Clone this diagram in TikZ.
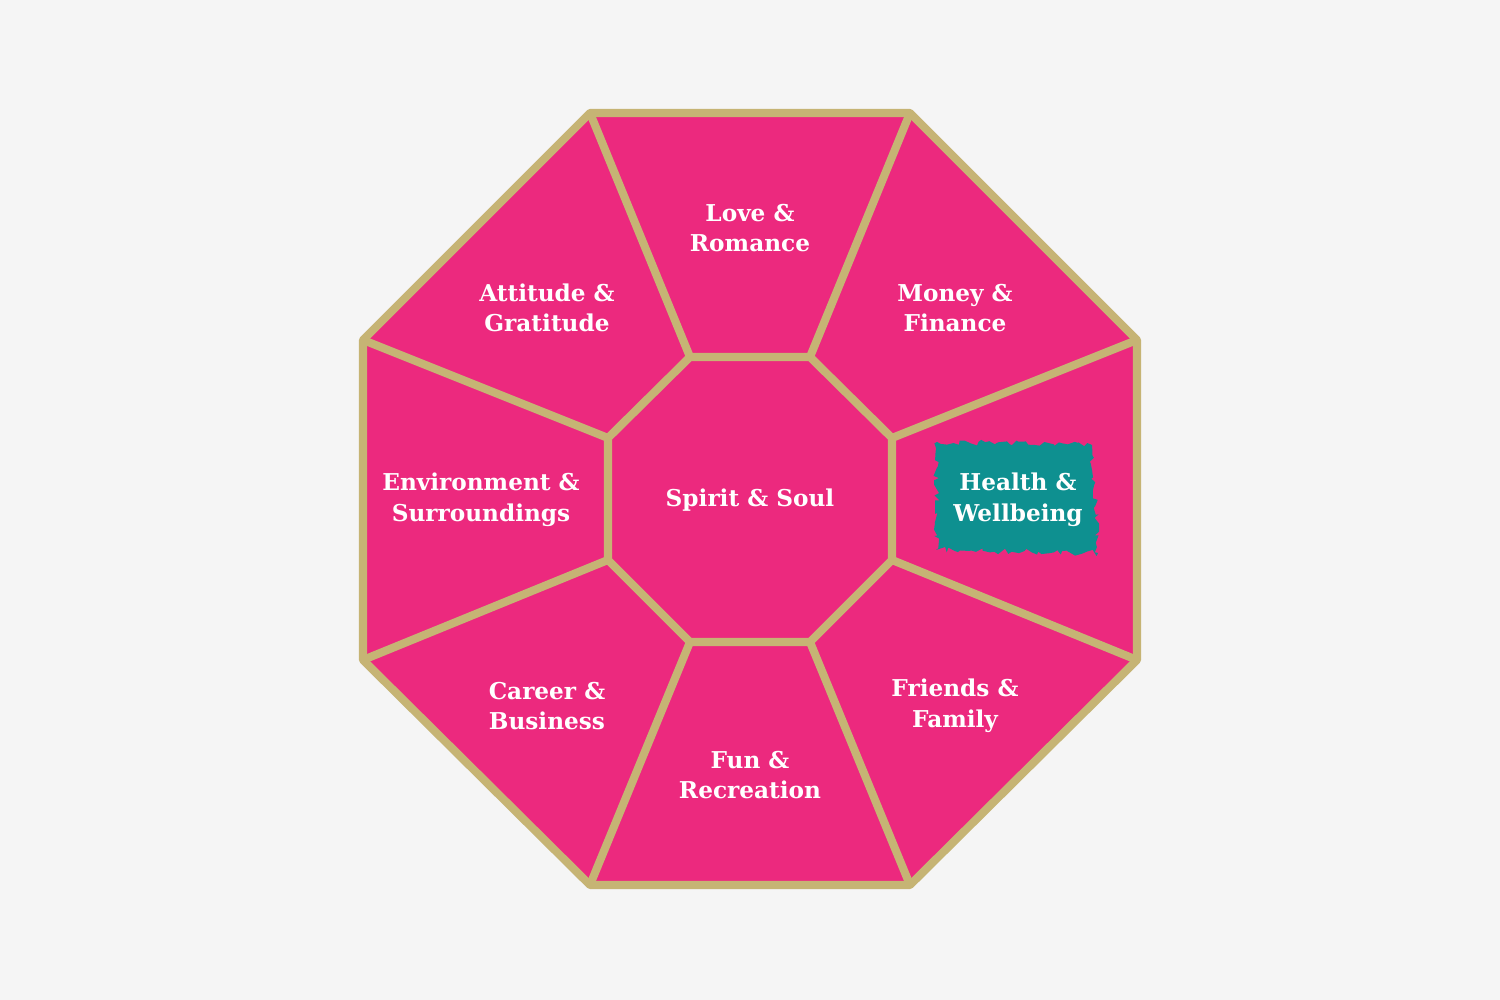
\documentclass[tikz,border=0pt]{standalone}
\usepackage{fontspec}
\setmainfont{DejaVu Serif}
\usetikzlibrary{decorations.pathmorphing}
\definecolor{bgcol}{HTML}{F5F5F5}
\definecolor{pinkcol}{HTML}{EC297E}
\definecolor{goldcol}{HTML}{C6B474}
\definecolor{tealcol}{HTML}{0E9090}
\tikzset{%
  % Specifications for style of areas and labels:
  frame/.style = {draw=goldcol, line width=2.3pt, line join=round},
  area/.style = {frame, fill=pinkcol},
  label/.style = {text=white, align=center, font=\bfseries\fontsize{6.6}{8.7}\selectfont},
  blob/.style = {fill=tealcol, decorate,
                 decoration={random steps, segment length=1.2pt, amplitude=0.9pt}}
}
\begin{document}
\begin{tikzpicture}
  \useasboundingbox[fill=bgcol] (0,0) rectangle (15,10);
  % outer corners
  \coordinate (o1) at (5.9,8.87);  \coordinate (o2) at (9.1,8.87);
  \coordinate (o3) at (11.37,6.6); \coordinate (o4) at (11.37,3.4);
  \coordinate (o5) at (9.1,1.15);  \coordinate (o6) at (5.9,1.15);
  \coordinate (o7) at (3.63,3.4);  \coordinate (o8) at (3.63,6.6);
  % inner corners
  \coordinate (i1) at (6.9,6.43);  \coordinate (i2) at (8.1,6.43);
  \coordinate (i3) at (8.92,5.62); \coordinate (i4) at (8.92,4.4);
  \coordinate (i5) at (8.1,3.58);  \coordinate (i6) at (6.9,3.58);
  \coordinate (i7) at (6.08,4.4);  \coordinate (i8) at (6.08,5.62);

  \draw[area] (o1) -- (o2) -- (o3) -- (o4) -- (o5) -- (o6) -- (o7) -- (o8) -- cycle;
  \draw[frame] (i1) -- (i2) -- (i3) -- (i4) -- (i5) -- (i6) -- (i7) -- (i8) -- cycle;
  \foreach \k in {1,...,8}
    \draw[frame] (i\k) -- (o\k);

  \fill[blob] (9.37,5.58) -- (10.92,5.55) -- (10.98,4.47) -- (9.36,4.5) -- cycle;

  \node (spirit)  [label] at (7.5,5.0)   {Spirit \& Soul};
  \node (love)    [label] at (7.5,7.72)  {Love \&\\Romance};
  \node (money)   [label] at (9.55,6.92) {Money \&\\Finance};
  \node (health)  [label] at (10.18,5.0) {Health \&\\Wellbeing};
  \node (friends) [label] at (9.55,2.94) {Friends \&\\Family};
  \node (fun)     [label] at (7.5,2.25)  {Fun \&\\Recreation};
  \node (career)  [label] at (5.47,2.94) {Career \&\\Business};
  \node (environ) [label] at (4.81,5.0)  {Environment \&\\Surroundings};
  \node (attitude)[label] at (5.47,6.92) {Attitude \&\\Gratitude};
\end{tikzpicture}
\end{document}
